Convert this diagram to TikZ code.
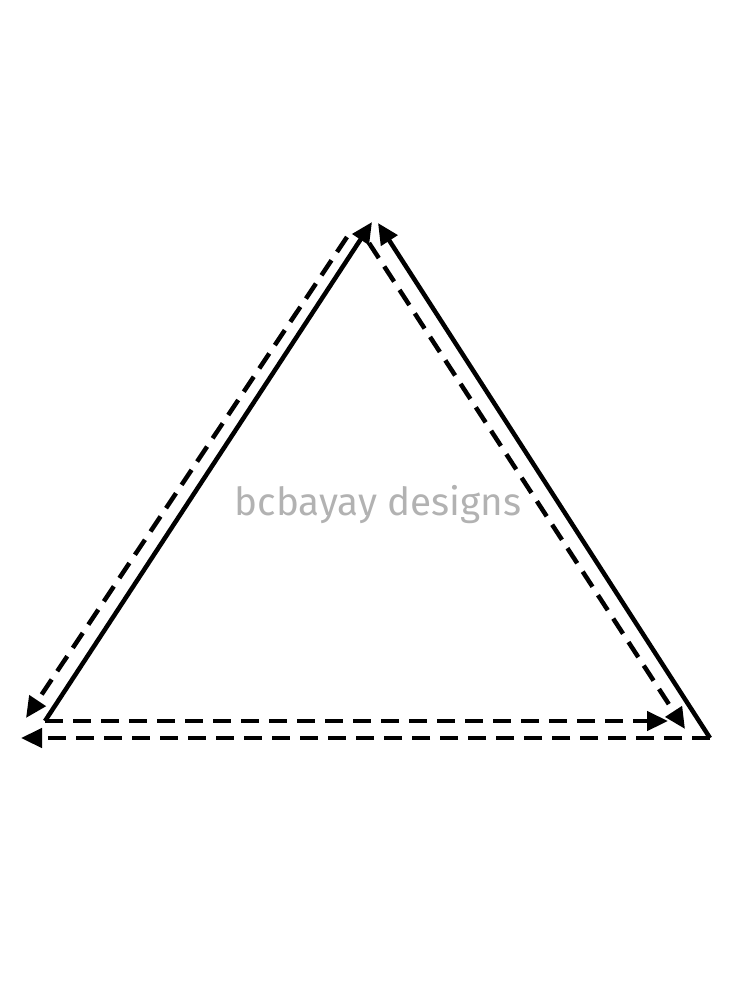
\documentclass[tikz,border=0pt]{standalone}
\usepackage{fontspec}
\newfontfamily\markfont{Fira Sans}
\usetikzlibrary{arrows.meta}

\begin{document}
\begin{tikzpicture}[%
            x=0.2mm, y=-0.2mm,
            edge/.style={line width=0.9mm, line cap=butt},
            flow/.style={edge, dash pattern=on 3.6mm off 2mm},
            tip/.style={-{Triangle[length=4.2mm, width=3.8mm]}}
        ]
        \useasboundingbox (0,0) rectangle (750,1000);

        \coordinate (A1) at (372,222);
        \coordinate (A2) at (378,223);
        \coordinate (L) at (45,721);
        \coordinate (R) at (710,738);

        \coordinate (P1) at (347,237);
        \coordinate (Q1) at (26,718);
        \coordinate (P2) at (369,243);
        \coordinate (Q2) at (685,729);
        \coordinate (S1) at (668,721);
        \coordinate (S2) at (21,738);

        % solid sides
        \draw [edge, tip] (L) -- (A1);
        \draw [edge, tip] (R) -- (A2);

        % dashed returns
        \draw [flow, tip] (P1) -- (Q1);
        \draw [flow, tip] (P2) -- (Q2);
        \draw [flow, tip] (L) -- (S1);
        \draw [flow, tip] (R) -- (S2);

        \node (mark) at (378,505) [text=black!30, font=\markfont\fontsize{22}{26}\selectfont] {bcbayay designs};
    \end{tikzpicture}
\end{document}
